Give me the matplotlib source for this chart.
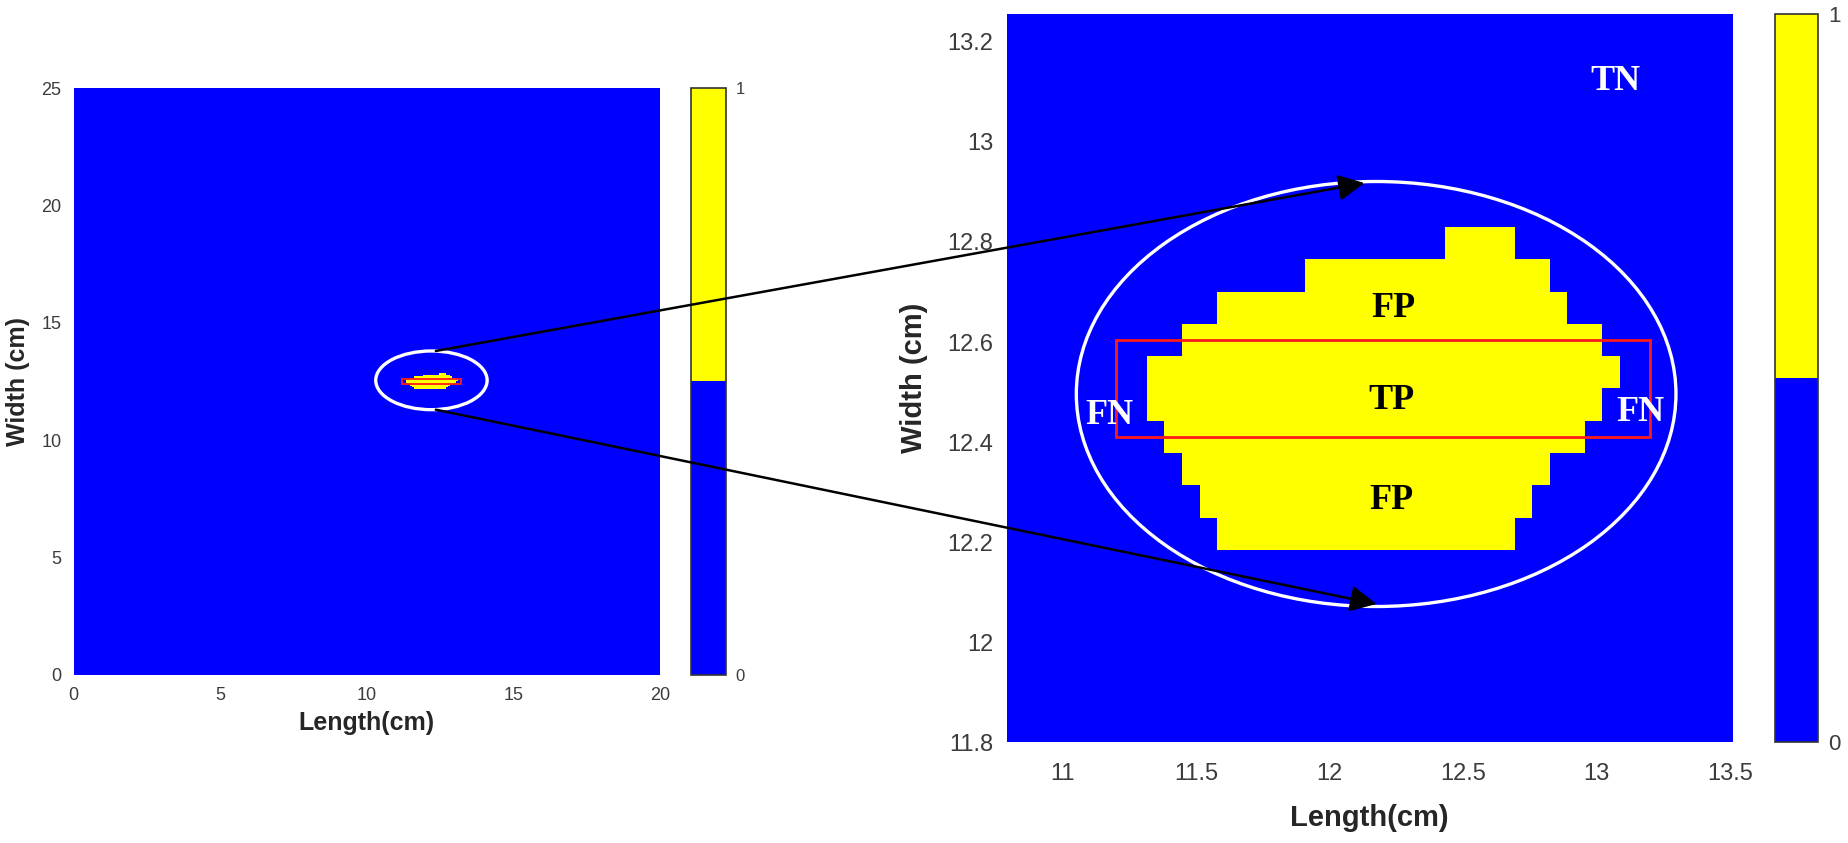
import matplotlib

matplotlib.use("Agg")
import matplotlib.pyplot as plt
import numpy as np
from matplotlib.colors import ListedColormap, Normalize
from matplotlib.patches import ConnectionPatch, Ellipse, Rectangle
from matplotlib.cm import ScalarMappable

plt.rcParams["font.family"] = ["Liberation Sans", "DejaVu Sans"]

# detected region: for each grid row (top to bottom) first and last+1 column
row_start = [17, 9, 4, 2, 0, 0, 1, 2, 3, 4]
row_end = [21, 23, 24, 26, 27, 26, 25, 23, 22, 21]
n_cols = 27
cell_x = 0.0656  # cm
cell_y = 0.0645  # cm
blob_left = 11.3165
blob_top = 12.829

# ground-truth box (cm)
box_x = [11.2, 13.2]
box_y = [12.41, 12.605]

# highlight ellipse (center, width, height) in each panel
ell_full = (12.2, 12.55, 3.8, 2.5)
ell_zoom = (12.174, 12.496, 2.248, 0.85)

# labels in zoomed panel: (text, x, y, colour)
region_labels = [
    ("TN", 13.07, 13.12, "white"),
    ("FP", 12.24, 12.666, "black"),
    ("TP", 12.23, 12.483, "black"),
    ("FP", 12.23, 12.283, "black"),
    ("FN", 11.176, 12.454, "white"),
    ("FN", 13.166, 12.46, "white"),
]

# arrow start points (full panel) and end points (zoomed panel)
arrow_from = [(12.35, 13.8), (12.35, 11.3)]
arrow_to = [(12.13, 12.918), (12.175, 12.076)]

full_xticks = [0, 5, 10, 15, 20]
full_yticks = [0, 5, 10, 15, 20, 25]
zoom_xticks = [11, 11.5, 12, 12.5, 13, 13.5]
zoom_yticks = [11.8, 12, 12.2, 12.4, 12.6, 12.8, 13, 13.2]

mask = np.zeros((len(row_start), n_cols))
for i, (s, e) in enumerate(zip(row_start, row_end)):
    mask[i, s:e] = 1
extent = [
    blob_left,
    blob_left + n_cols * cell_x,
    blob_top - len(row_start) * cell_y,
    blob_top,
]

cmap = ListedColormap(["#0000ff", "#ffff00"])
tick_col = "#3c3c3c"
label_col = "#262626"

fig = plt.figure(figsize=(18.49, 8.43), dpi=100)
ax1 = fig.add_axes([0.0399, 0.1993, 0.3171, 0.6963])
cax1 = fig.add_axes([0.3737, 0.1993, 0.0189, 0.6963])
ax2 = fig.add_axes([0.5446, 0.1198, 0.3924, 0.8636])
cax2 = fig.add_axes([0.96, 0.1198, 0.02326, 0.8636])


def draw_panel(ax, ell, box_lw, ell_lw):
    ax.set_facecolor("#0000ff")
    ax.imshow(mask, cmap=cmap, vmin=0, vmax=1, extent=extent,
              origin="upper", aspect="auto", interpolation="nearest", zorder=1)
    ax.add_patch(Rectangle((box_x[0], box_y[0]), box_x[1] - box_x[0],
                           box_y[1] - box_y[0], fill=False,
                           edgecolor="#ff1a1a", lw=box_lw, zorder=3))
    cx, cy, w, h = ell
    ax.add_patch(Ellipse((cx, cy), w, h, fill=False, edgecolor="white",
                         lw=ell_lw, zorder=4))
    for sp in ax.spines.values():
        sp.set_visible(False)


draw_panel(ax1, ell_full, 1.3, 2.4)
ax1.set_xlim(0, 20)
ax1.set_ylim(0, 25)
ax1.set_xticks(full_xticks)
ax1.set_yticks(full_yticks)
ax1.tick_params(length=0, labelsize=13, colors=tick_col, pad=9)
ax1.set_xlabel("Length(cm)", fontsize=18, fontweight="bold", color=label_col,
               labelpad=5)
ax1.set_ylabel("Width (cm)", fontsize=18, fontweight="bold", color=label_col,
               labelpad=8)

draw_panel(ax2, ell_zoom, 2.0, 2.4)
ax2.set_xlim(10.79, 13.51)
ax2.set_ylim(11.8, 13.256)
ax2.set_xticks(zoom_xticks)
ax2.set_xticklabels([f"{t:g}" for t in zoom_xticks])
ax2.set_yticks(zoom_yticks)
ax2.set_yticklabels([f"{t:g}" for t in zoom_yticks])
ax2.tick_params(axis="x", length=0, labelsize=17, colors=tick_col, pad=15)
ax2.tick_params(axis="y", length=0, labelsize=17, colors=tick_col, pad=10)
ax2.set_xlabel("Length(cm)", fontsize=21, fontweight="bold", color=label_col,
               labelpad=14)
ax2.set_ylabel("Width (cm)", fontsize=21, fontweight="bold", color=label_col,
               labelpad=14)

for txt, x, y, c in region_labels:
    ax2.text(x, y, txt, color=c, fontsize=26, fontweight="bold",
             family="Liberation Serif", ha="center", va="center", zorder=5)

for cax, size in [(cax1, 12), (cax2, 16)]:
    cb = fig.colorbar(ScalarMappable(norm=Normalize(0, 1), cmap=cmap), cax=cax)
    cb.set_ticks([0, 1])
    cb.ax.tick_params(length=0, labelsize=size, colors=tick_col, pad=7)
    cb.outline.set_edgecolor("#333333")
    cb.outline.set_linewidth(1.2)

for (xa, ya), (xb, yb) in zip(arrow_from, arrow_to):
    con = ConnectionPatch(xyA=(xa, ya), coordsA=ax1.transData,
                          xyB=(xb, yb), coordsB=ax2.transData,
                          arrowstyle="-|>", mutation_scale=40, lw=1.8,
                          color="black", zorder=10)
    fig.add_artist(con)

plt.savefig("out.png", dpi=100)
plt.close()
